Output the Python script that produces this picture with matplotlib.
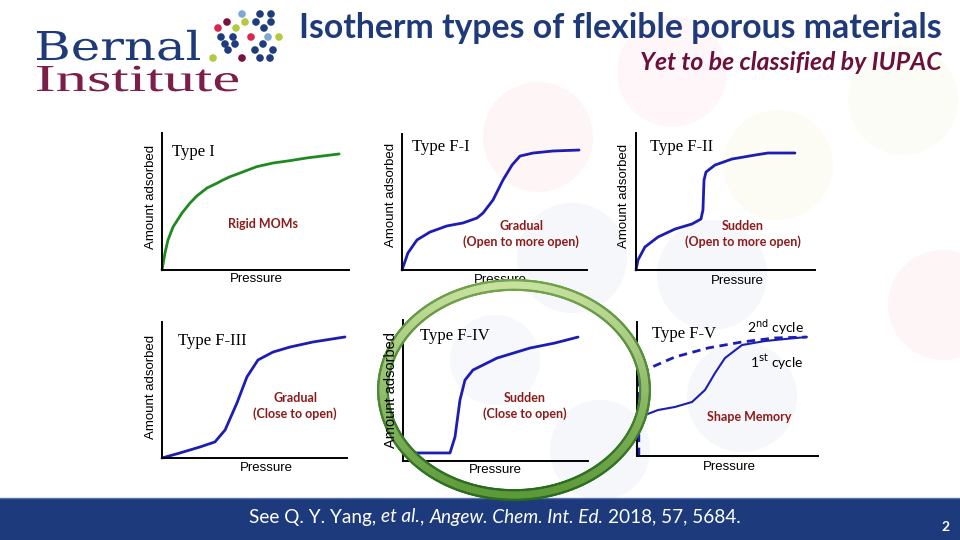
# Slide: isotherm types of flexible porous materials (six small sketch panels).
import matplotlib
matplotlib.use("Agg")
import matplotlib.pyplot as plt
import numpy as np
from matplotlib.patches import Circle, Rectangle, PathPatch
from matplotlib.collections import LineCollection
from matplotlib.textpath import TextPath
from matplotlib.font_manager import FontProperties
from matplotlib.transforms import Affine2D

# curves, x = pressure, y = amount adsorbed (0-10 of each axis)
type1_x = [0, 0.16, 0.32, 0.59, 1.07, 1.5, 1.86, 2.41, 2.93, 3.26, 3.64, 4.17, 5.06, 5.94, 6.84, 7.75, 9.47]
type1_y = [0, 1.24, 2.19, 3.14, 4.16, 4.89, 5.40, 5.99, 6.33, 6.57, 6.81, 7.08, 7.54, 7.81, 7.98, 8.18, 8.47]

typeF1_x = [0, 0.32, 0.81, 1.51, 2.43, 3.30, 4.05, 4.38, 4.92, 5.46, 5.95, 6.38, 7.08, 8.16, 9.57]
typeF1_y = [0, 1.25, 2.21, 2.79, 3.24, 3.46, 3.82, 4.19, 5.15, 6.62, 7.72, 8.38, 8.60, 8.75, 8.82]

typeF2_x = [0, 0.11, 0.50, 1.23, 2.18, 3.13, 3.63, 3.74, 3.80, 3.91, 4.41, 5.36, 6.65, 7.37, 8.88]
typeF2_y = [0, 0.73, 1.68, 2.41, 2.99, 3.36, 3.72, 4.38, 6.57, 7.15, 7.66, 8.10, 8.39, 8.54, 8.54]

typeF3_x = [0, 0.97, 2.05, 2.86, 3.41, 4.05, 4.59, 5.19, 6.0, 6.92, 8.16, 9.89]
typeF3_y = [0, 0.37, 0.81, 1.18, 2.06, 4.04, 5.96, 7.21, 7.79, 8.16, 8.53, 8.90]

typeF4_x = [0, 2.54, 2.81, 3.08, 3.35, 3.78, 5.08, 6.86, 8.22, 9.46]
typeF4_y = [0.57, 0.57, 1.70, 4.33, 5.74, 6.45, 7.30, 8.01, 8.37, 8.79]

typeF5_first_x = [0, 0, 0.44, 1.16, 2.10, 3.04, 3.76, 4.31, 4.86, 5.80, 7.07, 8.18, 9.39]
typeF5_first_y = [0, 2.91, 3.06, 3.43, 3.66, 4.03, 4.93, 6.19, 7.31, 8.28, 8.58, 8.73, 8.88]
typeF5_second_x = [0.1, 0.1, 0.28, 0.83, 2.10, 3.92, 5.80, 7.62, 9.39]
typeF5_second_y = [0, 5.90, 6.19, 6.64, 7.39, 8.06, 8.51, 8.81, 8.88]

panel_titles = ["Type I", "Type F-I", "Type F-II", "Type F-III", "Type F-IV", "Type F-V"]
panel_notes = ["Rigid MOMs", "Gradual\n(Open to more open)", "Sudden\n(Open to more open)",
               "Gradual\n(Close to open)", "Sudden\n(Close to open)", "Shape Memory"]

NAVY = "#1f3a78"
MAROON = "#6b0f3b"
NOTE_RED = "#8e1b1b"
CURVE_BLUE = "#1d1db4"
CURVE_GREEN = "#1f8a1f"


def fit_word(ax, word, family, x0, x1, base, cap, color):
    # draw a word as a path squeezed into a pixel box (y axis points down)
    prop = FontProperties(family=family)
    tp = TextPath((0, 0), word, size=100, prop=prop)
    ext = tp.get_extents()
    cap_h = TextPath((0, 0), "I", size=100, prop=prop).get_extents().height
    tr = Affine2D().translate(-ext.x0, 0).scale((x1 - x0) / ext.width, -cap / cap_h).translate(x0, base)
    ax.add_patch(PathPatch(tr.transform_path(tp), color=color, lw=0, zorder=3))


fig = plt.figure(figsize=(9.6, 5.4), dpi=100)
fig.patch.set_facecolor("white")

# background canvas in pixel units
ax0 = fig.add_axes([0, 0, 1, 1])
ax0.set_xlim(0, 960)
ax0.set_ylim(540, 0)
ax0.axis("off")

# faint decorative circles
for cx, cy, r, c in [(538, 137, 55, "#fef5f7"), (672, 72, 55, "#fef6f8"), (903, 100, 55, "#fcfcf6"),
                     (778, 165, 55, "#fcfcf5"), (572, 258, 55, "#f6f7fb"), (712, 275, 55, "#f6f7fb"),
                     (943, 305, 55, "#fef5f7"), (495, 360, 45, "#f7f8fb"), (742, 397, 55, "#f6f7fb"),
                     (600, 450, 50, "#f6f7fb")]:
    ax0.add_patch(Circle((cx, cy), r, color=c, lw=0, zorder=0))

# logo
logo_dots = [(242, 14, "lb"), (260, 14, "nv"), (271, 14, "nv"),
             (227, 22, "mr"), (245, 22, "lm"), (256, 22, "nv"), (271, 22, "nv"),
             (218, 28, "rd"), (236, 28, "lm"), (264, 28, "nv"),
             (221, 37, "nv"), (233, 37, "nv"), (251, 37, "rd"), (268, 37, "lb"), (279, 37, "lm"),
             (225, 44, "nv"), (235, 44, "nv"), (263, 44, "nv"),
             (228, 50, "nv"), (255, 50, "nv"), (273, 50, "nv"),
             (213, 58, "lm"), (242, 58, "mr"), (260, 58, "nv"), (270, 58, "nv")]
dot_col = {"lb": "#7fa6d6", "nv": "#1f3c7c", "lm": "#b5c940", "mr": "#7a1040", "rd": "#d8284f"}
ax0.scatter([d[0] for d in logo_dots], [d[1] for d in logo_dots], s=30,
            c=[dot_col[d[2]] for d in logo_dots], lw=0, zorder=3)
fit_word(ax0, "Bernal", "DejaVu Serif", 37, 200, 60, 29, NAVY)
fit_word(ax0, "Institute", "Liberation Serif", 37, 238, 91, 25, "#7b1e4a")

# titles
ax0.text(942, 38, "Isotherm types of flexible porous materials", fontsize=24.3, family="Lato",
         weight="bold", color=NAVY, ha="right", va="baseline")
ax0.text(942, 70, "Yet to be classified by IUPAC", fontsize=17.8, family="Lato", weight="bold",
         style="italic", color=MAROON, ha="right", va="baseline")

# panel boxes in pixels: x0, x1, ybot, ytop
boxes = [(162, 349, 270, 133), (402, 587, 270, 134), (636, 815, 270, 133),
         (162, 347, 458, 322), (403, 588, 461, 320), (637, 818, 456, 322)]
curves = [[(type1_x, type1_y, CURVE_GREEN, "-")],
          [(typeF1_x, typeF1_y, CURVE_BLUE, "-")],
          [(typeF2_x, typeF2_y, CURVE_BLUE, "-")],
          [(typeF3_x, typeF3_y, CURVE_BLUE, "-")],
          [(typeF4_x, typeF4_y, CURVE_BLUE, "-")],
          [(typeF5_first_x, typeF5_first_y, CURVE_BLUE, "-"),
           (typeF5_second_x, typeF5_second_y, CURVE_BLUE, "--")]]

for (x0, x1, yb, yt), series in zip(boxes, curves):
    ax = fig.add_axes([x0 / 960, 1 - yb / 540, (x1 - x0) / 960, (yb - yt) / 540])
    ax.patch.set_alpha(0)
    ax.set_xlim(0, 10)
    ax.set_ylim(0, 10)
    ax.set_xticks([])
    ax.set_yticks([])
    for s in ("top", "right"):
        ax.spines[s].set_visible(False)
    for s in ("left", "bottom"):
        ax.spines[s].set_linewidth(1.4)
    for xs, ys, col, ls in series:
        if ls == "--":
            ax.plot(xs, ys, color=col, lw=2.0, ls=(0, (3, 2)), clip_on=False)
        else:
            lw = 1.5 if len(series) > 1 else 2.0
            ax.plot(xs, ys, color=col, lw=lw, clip_on=False,
                    solid_capstyle="round", solid_joinstyle="round")

# panel text (pixel positions)
title_pos = [(172, 152), (412, 147), (650, 147), (178, 341), (420, 336), (652, 334)]
for (tx, ty), t in zip(title_pos, panel_titles):
    ax0.text(tx, ty, t, fontsize=12, family="Liberation Serif", va="center", ha="left")

note_pos = [(263, 224), (521, 234), (743, 234), (295, 406), (525, 406), (749, 417)]
for (nx, ny), t in zip(note_pos, panel_notes):
    ax0.text(nx, ny, t, fontsize=9, family="Lato", weight="bold", color=NOTE_RED,
             ha="center", va="center", linespacing=1.35)

press_pos = [(256, 279), (500, 280), (737, 281), (266, 468), (495, 470), (729, 467)]
for px, py in press_pos:
    ax0.text(px, py, "Pressure", fontsize=9.5, family="Liberation Sans", ha="center", va="center")

amount_pos = [(151, 197), (391, 195), (624, 196), (151, 387)]
for axx, ayy in amount_pos:
    ax0.text(axx, ayy, "Amount adsorbed", fontsize=9.5, family="Liberation Sans",
             rotation=90, ha="center", va="center")

ax0.text(747, 327, r"2$^{\rm nd}$ cycle", fontsize=10, family="Lato", va="center")
ax0.text(750, 362, r"1$^{\rm st}$ cycle", fontsize=10, family="Lato", va="center")

# overlay: ring and footer bar
ax1 = fig.add_axes([0, 0, 1, 1], zorder=5)
ax1.set_xlim(0, 960)
ax1.set_ylim(540, 0)
ax1.axis("off")
ax1.patch.set_alpha(0)

ax1.add_patch(Rectangle((0, 498), 960, 42, color="#1d3a7c", lw=0, zorder=1))
ax1.plot([0, 960], [498, 498], color="#5a74a8", lw=1, zorder=1)

t = np.linspace(0, 2 * np.pi, 361)
ex = 514 + 131 * np.cos(t)
ey = 390 + 105 * np.sin(t)
pts = np.column_stack([ex, ey]).reshape(-1, 1, 2)
segs = np.concatenate([pts[:-1], pts[1:]], axis=1)
frac = ((ey[:-1] + ey[1:]) / 2 - 285) / 210
dark_top, dark_bot = np.array([0.45, 0.64, 0.30]), np.array([0.16, 0.42, 0.12])
lite_top, lite_bot = np.array([0.78, 0.88, 0.62]), np.array([0.36, 0.60, 0.22])
col_outer = dark_top + (dark_bot - dark_top) * frac[:, None]
col_inner = lite_top + (lite_bot - lite_top) * frac[:, None]
ax1.add_collection(LineCollection(segs, colors=col_outer, linewidths=8.5, zorder=3, capstyle="round"))
ax1.add_collection(LineCollection(segs, colors=col_inner, linewidths=5.0, zorder=4, capstyle="round"))

# the F-IV axis label sits on top of the ring
ax1.text(391, 390, "Amount adsorbed", fontsize=10.5, family="Liberation Sans",
         rotation=90, ha="center", va="center", zorder=6)

# reference line in the footer, built from pieces so only the journal bits are italic
renderer = fig.canvas.get_renderer()
pieces = [("See Q. Y. Yang,", "normal", 4.8), ("et al.", "italic", 0), (",", "normal", 4.8),
          ("Angew. Chem. Int. Ed.", "italic", 4.8), ("2018, 57, 5684.", "normal", 0)]
arts = []
for txt, st, gap in pieces:
    a = ax1.text(0, 517, txt, fontsize=13.7, family="Lato", style=st, color="white",
                 ha="left", va="center", zorder=6)
    arts.append((a, a.get_window_extent(renderer).width, gap))
total = sum(w + g for _, w, g in arts)
xpos = 495 - total / 2
for a, w, g in arts:
    a.set_x(xpos)
    xpos += w + g

ax1.text(946, 527, "2", fontsize=10, family="Lato", weight="bold", color="white",
         ha="center", va="center", zorder=6)

fig.savefig("out.png", dpi=100)
